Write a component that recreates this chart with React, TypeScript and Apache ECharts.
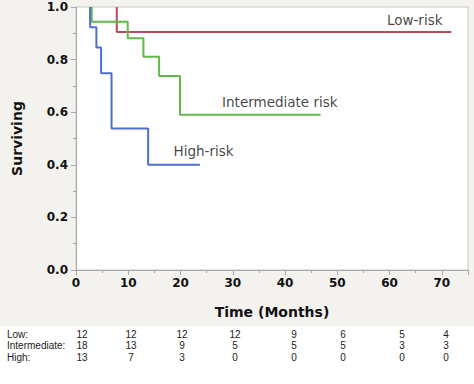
import React, { useEffect, useRef } from "react";
import * as echarts from "echarts";

// Kaplan-Meier step data: [month, survival]
const lowRisk: [number, number][] = [[7.8, 1], [7.8, 0.905], [71.8, 0.905]];
const intermediateRisk: [number, number][] = [
  [3, 1], [3, 0.944], [9.9, 0.881], [12.9, 0.811], [15.9, 0.738], [19.9, 0.59], [46.8, 0.59],
];
const highRisk: [number, number][] = [
  [2.7, 1], [2.7, 0.923], [3.9, 0.846], [4.8, 0.748], [6.8, 0.538], [13.8, 0.4], [23.7, 0.4],
];

// curve labels: [month, survival, text]
const curveLabels: [number, number, string][] = [
  [64.8, 0.952, "Low-risk"],
  [39, 0.64, "Intermediate risk"],
  [24.4, 0.454, "High-risk"],
];

// numbers at risk
const riskRowNames = ["Low:", "Intermediate:", "High:"];
const riskLow = [12, 12, 12, 12, 9, 6, 5, 4];
const riskIntermediate = [18, 13, 9, 5, 5, 5, 3, 3];
const riskHigh = [13, 7, 3, 0, 0, 0, 0, 0];

// layout (pixels)
const COL_X = [82, 131, 182, 235, 294, 343, 402, 446];
const ROW_Y = [334, 345, 357];

export default function App() {
  const ref = useRef<HTMLDivElement>(null);
  useEffect(() => {
    if (!ref.current) return;
    const chart = echarts.init(ref.current, undefined, { renderer: "svg" });
    const rows = [riskLow, riskIntermediate, riskHigh];
    const tableTexts: any[] = [];
    riskRowNames.forEach((name, r) => {
      tableTexts.push({
        type: "text",
        x: 7,
        y: ROW_Y[r],
        style: { text: name, font: "10px 'Liberation Sans'", fill: "#222", textVerticalAlign: "middle" },
      });
      rows[r].forEach((v, c) => {
        tableTexts.push({
          type: "text",
          x: COL_X[c],
          y: ROW_Y[r],
          style: {
            text: String(v),
            font: "10px 'Liberation Sans'",
            fill: "#222",
            textAlign: "center",
            textVerticalAlign: "middle",
          },
        });
      });
    });
    const lineStyle = (color: string) => ({ color, width: 2 });
    chart.setOption({
      animation: false,
      backgroundColor: new echarts.graphic.LinearGradient(0, 0, 0, 1, [
        { offset: 0, color: "#f3f2ee" },
        { offset: 0.849, color: "#f3f2ee" },
        { offset: 0.849, color: "#ffffff" },
        { offset: 1, color: "#ffffff" },
      ]),
      grid: {
        left: 76,
        right: 6,
        top: 7,
        bottom: 114,
        show: true,
        backgroundColor: "#ffffff",
        borderColor: "#c8c8c8",
        borderWidth: 1,
      },
      xAxis: {
        type: "value",
        min: 0,
        max: 75,
        interval: 10,
        name: "Time (Months)",
        nameLocation: "middle",
        nameGap: 35,
        nameTextStyle: { fontFamily: "DejaVu Sans", fontWeight: "bold", fontSize: 14, color: "#111" },
        axisLine: { lineStyle: { color: "#a8a8a8", width: 1 } },
        axisTick: { show: true, length: 5, lineStyle: { color: "#a8a8a8" } },
        minorTick: { show: true, splitNumber: 2, length: 3, lineStyle: { color: "#a8a8a8" } },
        splitLine: { show: false },
        axisLabel: {
          fontFamily: "DejaVu Sans",
          fontWeight: "bold",
          fontSize: 12,
          color: "#111",
          margin: 7,
          showMaxLabel: false,
        },
      },
      yAxis: {
        type: "value",
        min: 0,
        max: 1,
        interval: 0.2,
        name: "Surviving",
        nameLocation: "middle",
        nameRotate: 90,
        nameGap: 52,
        nameTextStyle: { fontFamily: "DejaVu Sans", fontWeight: "bold", fontSize: 14, color: "#111" },
        axisLine: { show: true, lineStyle: { color: "#a8a8a8", width: 1 } },
        axisTick: { show: true, length: 5, lineStyle: { color: "#a8a8a8" } },
        minorTick: { show: true, splitNumber: 2, length: 3, lineStyle: { color: "#a8a8a8" } },
        splitLine: { show: false },
        axisLabel: {
          fontFamily: "DejaVu Sans",
          fontWeight: "bold",
          fontSize: 12,
          color: "#111",
          margin: 8,
          formatter: (v: number) => v.toFixed(1),
        },
      },
      series: [
        {
          name: "Low-risk",
          type: "line",
          step: "end",
          data: lowRisk,
          symbol: "none",
          lineStyle: lineStyle("#b84a5e"),
          z: 3,
        },
        {
          name: "Intermediate risk",
          type: "line",
          step: "end",
          data: intermediateRisk,
          symbol: "none",
          lineStyle: lineStyle("#62b84a"),
          z: 4,
        },
        {
          name: "High-risk",
          type: "line",
          step: "end",
          data: highRisk,
          symbol: "none",
          lineStyle: lineStyle("#4d6fd0"),
          z: 5,
        },
        {
          type: "scatter",
          data: curveLabels,
          symbolSize: 1,
          itemStyle: { color: "transparent" },
          label: {
            show: true,
            position: "inside",
            formatter: (p: any) => p.data[2],
            fontFamily: "DejaVu Sans",
            fontSize: 13.5,
            color: "#111",
          },
          z: 6,
        },
      ],
      graphic: tableTexts,
    });
    return () => chart.dispose();
  }, []);
  return (
    <div
      ref={ref}
      style={{ position: "fixed", left: 0, top: 0, width: 474, height: 384 }}
    />
  );
}
